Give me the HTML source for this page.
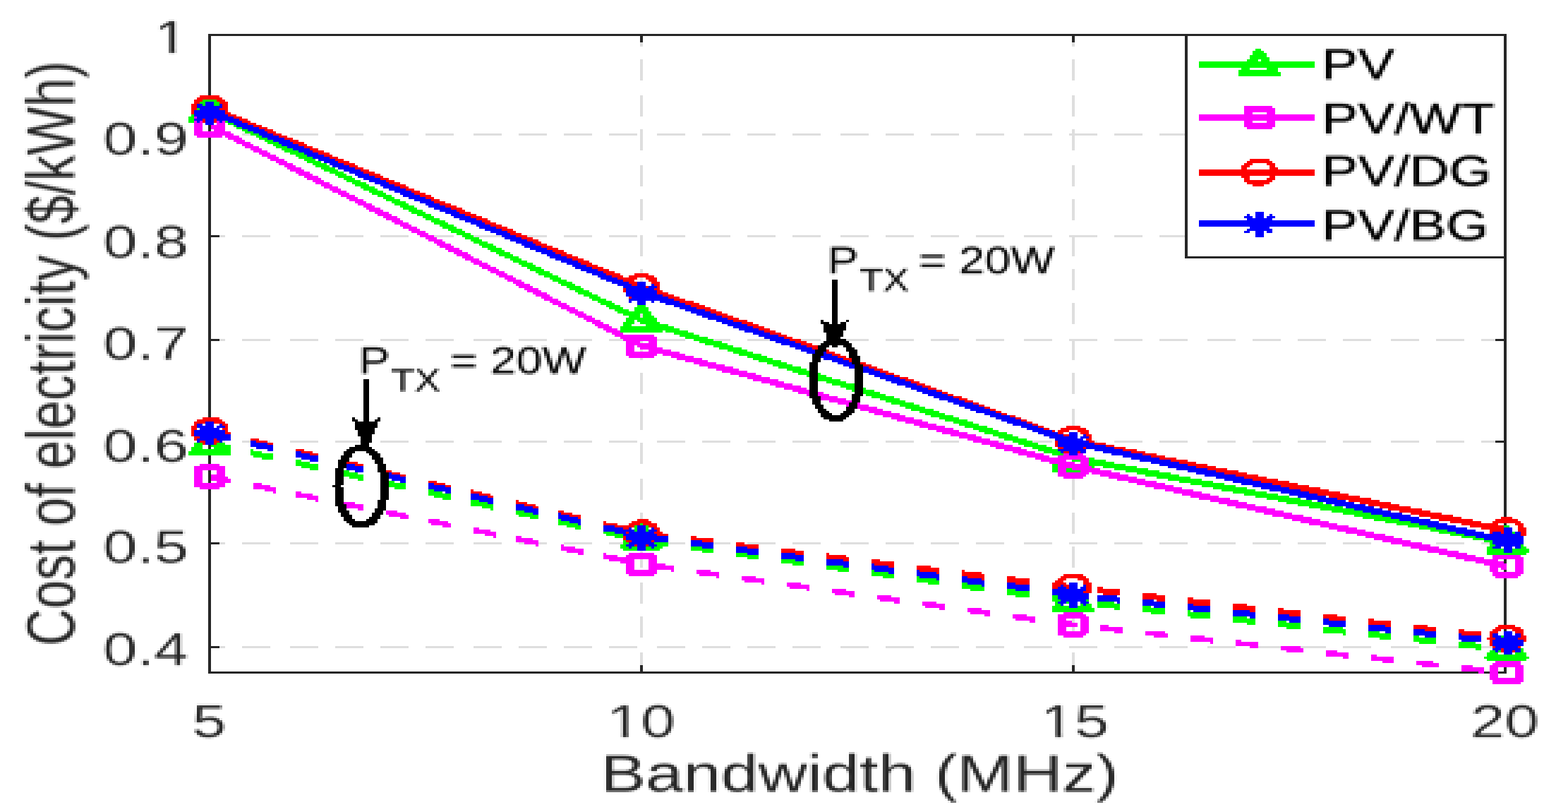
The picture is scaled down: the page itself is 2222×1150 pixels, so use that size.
<!DOCTYPE html>
<html lang="en"><head><meta charset="utf-8"><title>Cost of electricity vs Bandwidth</title>
<style>html,body{margin:0;padding:0;background:#fff;}body{width:2222px;height:1150px;overflow:hidden;}svg{display:block;}text{font-family:"Liberation Sans",Arial,Helvetica,sans-serif;}</style>
</head><body>
<svg width="2222" height="1150" viewBox="0 0 2222 1150" role="img" aria-label="Cost of electricity versus bandwidth">
<rect width="2222" height="1150" fill="#fff"/>
<defs><filter id="px" filterUnits="userSpaceOnUse" x="0" y="0" width="2222" height="1150" color-interpolation-filters="sRGB"><feFlood x="0" y="1" width="1" height="1" flood-color="#000"/><feComposite x="-1" y="0" width="4" height="3"/><feTile result="grid"/><feComposite in="SourceGraphic" in2="grid" operator="in" result="s1"/><feOffset in="s1" dx="1" dy="0" result="s2"/><feMerge result="s"><feMergeNode in="s1"/><feMergeNode in="s2"/></feMerge><feMorphology in="s" operator="dilate" radius="1"/></filter></defs>
<g filter="url(#px)">
<g transform="scale(4.0,3.0)" fill="none" shape-rendering="crispEdges">
<g stroke="#dedede" stroke-width="1" stroke-dasharray="10 6.3">
<path d="M74.250,63.500 H533.000" stroke-dasharray="10 6.25" stroke-dashoffset="4.500"/>
<path d="M74.250,111.500 H533.000" stroke-dasharray="10 6.25" stroke-dashoffset="4.500"/>
<path d="M74.250,160.500 H533.000" stroke-dasharray="10 6.25" stroke-dashoffset="4.500"/>
<path d="M74.250,208.500 H533.000" stroke-dasharray="10 6.25" stroke-dashoffset="4.500"/>
<path d="M74.250,256.500 H533.000" stroke-dasharray="10 6.25" stroke-dashoffset="4.500"/>
<path d="M74.250,305.500 H533.000" stroke-dasharray="10 6.25" stroke-dashoffset="4.500"/>
<path d="M227.150,317.667 V16.333" stroke-dasharray="10 6.43"/>
<path d="M380.000,317.667 V16.333" stroke-dasharray="10 6.43"/>
</g>
<g stroke="#262626" stroke-width="1">
<rect x="74.250" y="16.333" width="458.750" height="301.333"/>
<path d="M74.250,111.500 h3.5 M533.000,111.500 h-3.5 M74.250,160.500 h3.5 M533.000,160.500 h-3.5 M74.250,208.500 h3.5 M533.000,208.500 h-3.5 M74.250,256.500 h3.5 M533.000,256.500 h-3.5 M74.250,305.500 h3.5 M533.000,305.500 h-3.5 M227.150,317.667 v-3.5 M227.150,16.333 v3.5 M380.000,317.667 v-3.5 M380.000,16.333 v3.5"/>
</g>
<g stroke="#00ff00">
<path transform="matrix(1 0.64421 0 1 74.250 52.667)" d="M0,0 H152.900" stroke-width="3.133"/>
<path transform="matrix(1 0.42525 0 1 227.150 151.167)" d="M0,0 H152.850" stroke-width="3.133"/>
<path transform="matrix(1 0.25973 0 1 380.000 216.167)" d="M0,0 H153.750" stroke-width="3.133"/>
<path transform="translate(74.250,52.333)" d="M0,-6.2 L6.1,4.2 L-6.1,4.2 Z" fill="none" stroke="#00ff00" stroke-width="3.1" stroke-linejoin="round"/>
<path transform="translate(227.150,151.167)" d="M0,-6.2 L6.1,4.2 L-6.1,4.2 Z" fill="none" stroke="#00ff00" stroke-width="3.1" stroke-linejoin="round"/>
<path transform="translate(380.000,217.000)" d="M0,-6.2 L6.1,4.2 L-6.1,4.2 Z" fill="none" stroke="#00ff00" stroke-width="3.1" stroke-linejoin="round"/>
<path transform="translate(533.750,256.033)" d="M0,-6.2 L6.1,4.2 L-6.1,4.2 Z" fill="none" stroke="#00ff00" stroke-width="3.1" stroke-linejoin="round"/>
</g>
<g stroke="#ff00ff">
<path transform="matrix(1 0.67909 0 1 74.250 59.333)" d="M0,0 H152.900" stroke-width="3.133"/>
<path transform="matrix(1 0.37182 0 1 227.150 163.167)" d="M0,0 H152.850" stroke-width="3.133"/>
<path transform="matrix(1 0.30894 0 1 380.000 220.000)" d="M0,0 H153.750" stroke-width="3.133"/>
<rect transform="translate(74.250,59.333)" x="-4.2" y="-4.2" width="8.4" height="8.4" rx="1.3" fill="none" stroke="#ff00ff" stroke-width="2.9"/>
<rect transform="translate(227.150,163.333)" x="-4.2" y="-4.2" width="8.4" height="8.4" rx="1.3" fill="none" stroke="#ff00ff" stroke-width="2.9"/>
<rect transform="translate(380.000,220.000)" x="-4.2" y="-4.2" width="8.4" height="8.4" rx="1.3" fill="none" stroke="#ff00ff" stroke-width="2.9"/>
<rect transform="translate(533.750,267.233)" x="-4.2" y="-4.2" width="8.4" height="8.4" rx="1.3" fill="none" stroke="#ff00ff" stroke-width="2.9"/>
</g>
<g stroke="#ff0000">
<path transform="matrix(1 0.55352 0 1 74.250 50.867)" d="M0,0 H152.900" stroke-width="3.133"/>
<path transform="matrix(1 0.47389 0 1 227.150 135.500)" d="M0,0 H152.850" stroke-width="3.133"/>
<path transform="matrix(1 0.27686 0 1 380.000 207.933)" d="M0,0 H153.750" stroke-width="3.133"/>
<circle transform="translate(74.250,51.233)" r="5.5" fill="none" stroke="#ff0000" stroke-width="2.3"/>
<circle transform="translate(227.150,135.667)" r="5.5" fill="none" stroke="#ff0000" stroke-width="2.3"/>
<circle transform="translate(380.000,207.667)" r="5.5" fill="none" stroke="#ff0000" stroke-width="2.3"/>
<circle transform="translate(533.750,250.900)" r="5.5" fill="none" stroke="#ff0000" stroke-width="2.3"/>
</g>
<g stroke="#0000ff">
<path transform="matrix(1 0.55810 0 1 74.250 52.500)" d="M0,0 H152.900" stroke-width="3.133"/>
<path transform="matrix(1 0.46342 0 1 227.150 137.833)" d="M0,0 H152.850" stroke-width="3.133"/>
<path transform="matrix(1 0.30417 0 1 380.000 208.667)" d="M0,0 H153.750" stroke-width="3.133"/>
<path transform="translate(74.250,53.300)" d="M-5.6,0 H5.6 M0,-5.67 V5.67" fill="none" stroke="#0000ff" stroke-width="3.1"/><path transform="translate(74.250,53.300)" d="M-4.7,-4.0 L4.7,4.0 M-4.7,4.0 L4.7,-4.0" fill="none" stroke="#0000ff" stroke-width="2.0"/>
<path transform="translate(227.150,138.600)" d="M-5.6,0 H5.6 M0,-5.67 V5.67" fill="none" stroke="#0000ff" stroke-width="3.1"/><path transform="translate(227.150,138.600)" d="M-4.7,-4.0 L4.7,4.0 M-4.7,4.0 L4.7,-4.0" fill="none" stroke="#0000ff" stroke-width="2.0"/>
<path transform="translate(380.000,209.667)" d="M-5.6,0 H5.6 M0,-5.67 V5.67" fill="none" stroke="#0000ff" stroke-width="3.1"/><path transform="translate(380.000,209.667)" d="M-4.7,-4.0 L4.7,4.0 M-4.7,4.0 L4.7,-4.0" fill="none" stroke="#0000ff" stroke-width="2.0"/>
<path transform="translate(533.750,255.000)" d="M-5.6,0 H5.6 M0,-5.67 V5.67" fill="none" stroke="#0000ff" stroke-width="3.1"/><path transform="translate(533.750,255.000)" d="M-4.7,-4.0 L4.7,4.0 M-4.7,4.0 L4.7,-4.0" fill="none" stroke="#0000ff" stroke-width="2.0"/>
</g>
<g stroke="#00ff00">
<path transform="matrix(1 0.29649 0 1 74.250 209.500)" d="M0,0 H152.900" stroke-width="3.000" stroke-dasharray="8.000 7.550" stroke-dashoffset="0.750"/>
<path transform="matrix(1 0.18973 0 1 227.150 254.833)" d="M0,0 H152.850" stroke-width="3.000" stroke-dasharray="8.000 8.000" stroke-dashoffset="14.650"/>
<path transform="matrix(1 0.14851 0 1 380.000 283.833)" d="M0,0 H153.750" stroke-width="3.000" stroke-dasharray="8.000 8.000" stroke-dashoffset="7.500"/>
<path transform="translate(74.250,209.667)" d="M0,-6.2 L6.1,4.2 L-6.1,4.2 Z" fill="none" stroke="#00ff00" stroke-width="3.1" stroke-linejoin="round"/>
<path transform="translate(227.150,253.900)" d="M0,-6.2 L6.1,4.2 L-6.1,4.2 Z" fill="none" stroke="#00ff00" stroke-width="3.1" stroke-linejoin="round"/>
<path transform="translate(380.000,283.733)" d="M0,-6.2 L6.1,4.2 L-6.1,4.2 Z" fill="none" stroke="#00ff00" stroke-width="3.1" stroke-linejoin="round"/>
<path transform="translate(533.750,306.400)" d="M0,-6.2 L6.1,4.2 L-6.1,4.2 Z" fill="none" stroke="#00ff00" stroke-width="3.1" stroke-linejoin="round"/>
</g>
<g stroke="#ff00ff">
<path transform="matrix(1 0.26989 0 1 74.250 225.000)" d="M0,0 H152.900" stroke-width="2.667" stroke-dasharray="8.000 7.550" stroke-dashoffset="0.250"/>
<path transform="matrix(1 0.18798 0 1 227.150 266.267)" d="M0,0 H152.850" stroke-width="2.667" stroke-dasharray="8.000 8.000" stroke-dashoffset="12.900"/>
<path transform="matrix(1 0.14743 0 1 380.000 295.000)" d="M0,0 H153.750" stroke-width="2.667" stroke-dasharray="8.000 8.000" stroke-dashoffset="6.250"/>
<rect transform="translate(74.250,225.000)" x="-4.2" y="-4.2" width="8.4" height="8.4" rx="1.3" fill="none" stroke="#ff00ff" stroke-width="2.9"/>
<rect transform="translate(227.150,266.267)" x="-4.2" y="-4.2" width="8.4" height="8.4" rx="1.3" fill="none" stroke="#ff00ff" stroke-width="2.9"/>
<rect transform="translate(380.000,295.000)" x="-4.2" y="-4.2" width="8.4" height="8.4" rx="1.3" fill="none" stroke="#ff00ff" stroke-width="2.9"/>
<rect transform="translate(533.750,317.667)" x="-4.2" y="-4.2" width="8.4" height="8.4" rx="1.3" fill="none" stroke="#ff00ff" stroke-width="2.9"/>
</g>
<g stroke="#ff0000">
<path transform="matrix(1 0.31546 0 1 74.250 203.600)" d="M0,0 H152.900" stroke-width="3.000" stroke-dasharray="8.000 7.550" stroke-dashoffset="0.750"/>
<path transform="matrix(1 0.16683 0 1 227.150 251.833)" d="M0,0 H152.850" stroke-width="3.000" stroke-dasharray="8.000 8.000" stroke-dashoffset="14.650"/>
<path transform="matrix(1 0.15610 0 1 380.000 277.333)" d="M0,0 H153.750" stroke-width="3.000" stroke-dasharray="8.000 8.000" stroke-dashoffset="7.500"/>
<circle transform="translate(74.250,203.467)" r="5.5" fill="none" stroke="#ff0000" stroke-width="2.3"/>
<circle transform="translate(227.150,251.833)" r="5.5" fill="none" stroke="#ff0000" stroke-width="2.3"/>
<circle transform="translate(380.000,277.333)" r="5.5" fill="none" stroke="#ff0000" stroke-width="2.3"/>
<circle transform="translate(533.750,301.333)" r="5.5" fill="none" stroke="#ff0000" stroke-width="2.3"/>
</g>
<g stroke="#0000ff">
<path transform="matrix(1 0.31720 0 1 74.250 204.667)" d="M0,0 H152.900" stroke-width="3.000" stroke-dasharray="8.000 7.550" stroke-dashoffset="0.750"/>
<path transform="matrix(1 0.18057 0 1 227.150 253.167)" d="M0,0 H152.850" stroke-width="3.000" stroke-dasharray="8.000 8.000" stroke-dashoffset="14.650"/>
<path transform="matrix(1 0.14678 0 1 380.000 280.767)" d="M0,0 H153.750" stroke-width="3.000" stroke-dasharray="8.000 8.000" stroke-dashoffset="7.500"/>
<path transform="translate(74.250,204.467)" d="M-5.6,0 H5.6 M0,-5.67 V5.67" fill="none" stroke="#0000ff" stroke-width="3.1"/><path transform="translate(74.250,204.467)" d="M-4.7,-4.0 L4.7,4.0 M-4.7,4.0 L4.7,-4.0" fill="none" stroke="#0000ff" stroke-width="2.0"/>
<path transform="translate(227.150,253.933)" d="M-5.6,0 H5.6 M0,-5.67 V5.67" fill="none" stroke="#0000ff" stroke-width="3.1"/><path transform="translate(227.150,253.933)" d="M-4.7,-4.0 L4.7,4.0 M-4.7,4.0 L4.7,-4.0" fill="none" stroke="#0000ff" stroke-width="2.0"/>
<path transform="translate(380.000,281.100)" d="M-5.6,0 H5.6 M0,-5.67 V5.67" fill="none" stroke="#0000ff" stroke-width="3.1"/><path transform="translate(380.000,281.100)" d="M-4.7,-4.0 L4.7,4.0 M-4.7,4.0 L4.7,-4.0" fill="none" stroke="#0000ff" stroke-width="2.0"/>
<path transform="translate(533.750,303.333)" d="M-5.6,0 H5.6 M0,-5.67 V5.67" fill="none" stroke="#0000ff" stroke-width="3.1"/><path transform="translate(533.750,303.333)" d="M-4.7,-4.0 L4.7,4.0 M-4.7,4.0 L4.7,-4.0" fill="none" stroke="#0000ff" stroke-width="2.0"/>
</g>
<ellipse cx="296.000" cy="179.200" rx="8.3" ry="18.3" stroke="#000" stroke-width="3.0"/>
<path d="M295.500,132.000 V154.500" stroke="#000" stroke-width="2"/>
<path d="M290.375,150.500 L292.500,152.167 L295.500,153.500 L298.500,152.167 L300.625,150.500 L296.750,163.833 L294.250,163.833 Z" fill="#000" stroke="none"/>
<ellipse cx="127.900" cy="229.600" rx="8.3" ry="18.3" stroke="#000" stroke-width="3.0"/>
<path d="M129.500,179.333 V200.867" stroke="#000" stroke-width="2"/>
<path d="M124.375,196.867 L126.500,198.533 L129.500,199.867 L132.500,198.533 L134.625,196.867 L130.750,210.167 L128.250,210.167 Z" fill="#000" stroke="none"/>
<rect x="420.500" y="16.333" width="112.500" height="104.800" fill="#fff" stroke="#262626" stroke-width="1"/>
<g stroke="#00ff00">
<path d="M425.075,30.667 H465.550" stroke-width="3.133"/>
<path transform="translate(445.875,30.667)" d="M0,-6.2 L6.1,4.2 L-6.1,4.2 Z" fill="none" stroke="#00ff00" stroke-width="3.1" stroke-linejoin="round"/>
</g>
<g stroke="#ff00ff">
<path d="M425.075,55.333 H465.550" stroke-width="3.133"/>
<rect transform="translate(445.875,55.333)" x="-4.2" y="-4.2" width="8.4" height="8.4" rx="1.3" fill="none" stroke="#ff00ff" stroke-width="2.9"/>
</g>
<g stroke="#ff0000">
<path d="M425.075,81.167 H465.550" stroke-width="3.133"/>
<circle transform="translate(445.875,81.167)" r="5.5" fill="none" stroke="#ff0000" stroke-width="2.3"/>
</g>
<g stroke="#0000ff">
<path d="M425.075,105.833 H465.550" stroke-width="3.133"/>
<path transform="translate(445.875,105.833)" d="M-5.6,0 H5.6 M0,-5.67 V5.67" fill="none" stroke="#0000ff" stroke-width="3.1"/><path transform="translate(445.875,105.833)" d="M-4.7,-4.0 L4.7,4.0 M-4.7,4.0 L4.7,-4.0" fill="none" stroke="#0000ff" stroke-width="2.0"/>
</g>
</g>
</g>
<defs><filter id="soft" filterUnits="userSpaceOnUse" x="0" y="0" width="2222" height="1150" color-interpolation-filters="sRGB"><feGaussianBlur in="SourceGraphic" stdDeviation="1.15 0.87" result="b"/><feFlood x="0" y="1" width="1" height="1" flood-color="#000"/><feComposite x="-1" y="0" width="4" height="3"/><feTile result="grid"/><feComposite in="b" in2="grid" operator="in" result="s1"/><feOffset in="s1" dx="1" dy="0" result="s2"/><feMerge result="s"><feMergeNode in="s1"/><feMergeNode in="s2"/></feMerge><feMorphology in="s" operator="dilate" radius="1"/></filter></defs>
<g filter="url(#soft)">
<text transform="translate(266.40,74.80) scale(0.8700,0.6500)" font-size="100" fill="#262626" text-anchor="end" stroke="#fff" stroke-width="0.3">1</text>
<path transform="translate(266.40,74.80) scale(0.8700,0.6500)" fill="#fff" d="M-51.62,-10 H-30.62 V2 H-51.62 Z M-21.52,-10 H-2.62 V2 H-21.52 Z"/>
<text transform="translate(266.40,219.40) scale(0.8700,0.6500)" font-size="100" fill="#262626" text-anchor="end" stroke="#fff" stroke-width="0.3">0.9</text>
<text transform="translate(266.40,364.80) scale(0.8700,0.6500)" font-size="100" fill="#262626" text-anchor="end" stroke="#fff" stroke-width="0.3">0.8</text>
<text transform="translate(266.40,509.40) scale(0.8700,0.6500)" font-size="100" fill="#262626" text-anchor="end" stroke="#fff" stroke-width="0.3">0.7</text>
<text transform="translate(266.40,654.20) scale(0.8700,0.6500)" font-size="100" fill="#262626" text-anchor="end" stroke="#fff" stroke-width="0.3">0.6</text>
<text transform="translate(266.40,796.60) scale(0.8700,0.6500)" font-size="100" fill="#262626" text-anchor="end" stroke="#fff" stroke-width="0.3">0.5</text>
<text transform="translate(266.40,941.60) scale(0.8700,0.6500)" font-size="100" fill="#262626" text-anchor="end" stroke="#fff" stroke-width="0.3">0.4</text>
<text transform="translate(296.00,1044.30) scale(0.8700,0.6500)" font-size="100" fill="#262626" text-anchor="middle" stroke="#fff" stroke-width="0.3">5</text>
<text transform="translate(908.00,1044.30) scale(0.8700,0.6500)" font-size="100" fill="#262626" text-anchor="middle" stroke="#fff" stroke-width="0.3">10</text>
<path transform="translate(908.00,1044.30) scale(0.8700,0.6500)" fill="#fff" d="M-51.62,-10 H-30.62 V2 H-51.62 Z M-21.52,-10 H-2.62 V2 H-21.52 Z"/>
<text transform="translate(1522.50,1044.30) scale(0.8700,0.6500)" font-size="100" fill="#262626" text-anchor="middle" stroke="#fff" stroke-width="0.3">15</text>
<path transform="translate(1522.50,1044.30) scale(0.8700,0.6500)" fill="#fff" d="M-51.62,-10 H-30.62 V2 H-51.62 Z M-21.52,-10 H-2.62 V2 H-21.52 Z"/>
<text transform="translate(2132.00,1044.30) scale(0.8700,0.6500)" font-size="100" fill="#262626" text-anchor="middle" stroke="#fff" stroke-width="0.3">20</text>
<text transform="translate(850.75,1121.50) scale(0.9570,0.7350)" font-size="100" fill="#262626" text-anchor="start">Bandwidth (MHz)</text>
<text transform="translate(104.90,914.63) rotate(-90) scale(0.7270,0.9700)" font-size="100" fill="#262626" text-anchor="start">Cost of electricity ($/kWh)</text>
<text transform="translate(1872.24,111.70) scale(0.7750,0.6150)" font-size="100" fill="#000" text-anchor="start" stroke="#000" stroke-width="1.0">PV</text>
<text transform="translate(1872.24,188.90) scale(0.7750,0.6150)" font-size="100" fill="#000" text-anchor="start" stroke="#000" stroke-width="1.0">PV/WT</text>
<text transform="translate(1872.24,262.80) scale(0.7750,0.6150)" font-size="100" fill="#000" text-anchor="start" stroke="#000" stroke-width="1.0">PV/DG</text>
<text transform="translate(1872.24,340.00) scale(0.7750,0.6150)" font-size="100" fill="#000" text-anchor="start" stroke="#000" stroke-width="1.0">PV/BG</text>
<text transform="translate(1171.90,386.80) scale(0.6600,0.5300)" font-size="100" fill="#0d0d0d" text-anchor="start" stroke="#0d0d0d" stroke-width="0.6">P</text>
<text transform="translate(1217.40,411.60) scale(0.5500,0.4370)" font-size="100" fill="#0d0d0d" text-anchor="start" stroke="#0d0d0d" stroke-width="0.6">TX</text>
<text transform="translate(1301.50,386.80) scale(0.6600,0.5300)" font-size="100" fill="#0d0d0d" text-anchor="start" xml:space="preserve" stroke="#0d0d0d" stroke-width="0.6">= 20W</text>
<text transform="translate(507.90,528.90) scale(0.6600,0.5300)" font-size="100" fill="#0d0d0d" text-anchor="start" stroke="#0d0d0d" stroke-width="0.6">P</text>
<text transform="translate(553.40,553.70) scale(0.5500,0.4370)" font-size="100" fill="#0d0d0d" text-anchor="start" stroke="#0d0d0d" stroke-width="0.6">TX</text>
<text transform="translate(637.50,528.90) scale(0.6600,0.5300)" font-size="100" fill="#0d0d0d" text-anchor="start" xml:space="preserve" stroke="#0d0d0d" stroke-width="0.6">= 20W</text>
</g>
</svg>
</body></html>
